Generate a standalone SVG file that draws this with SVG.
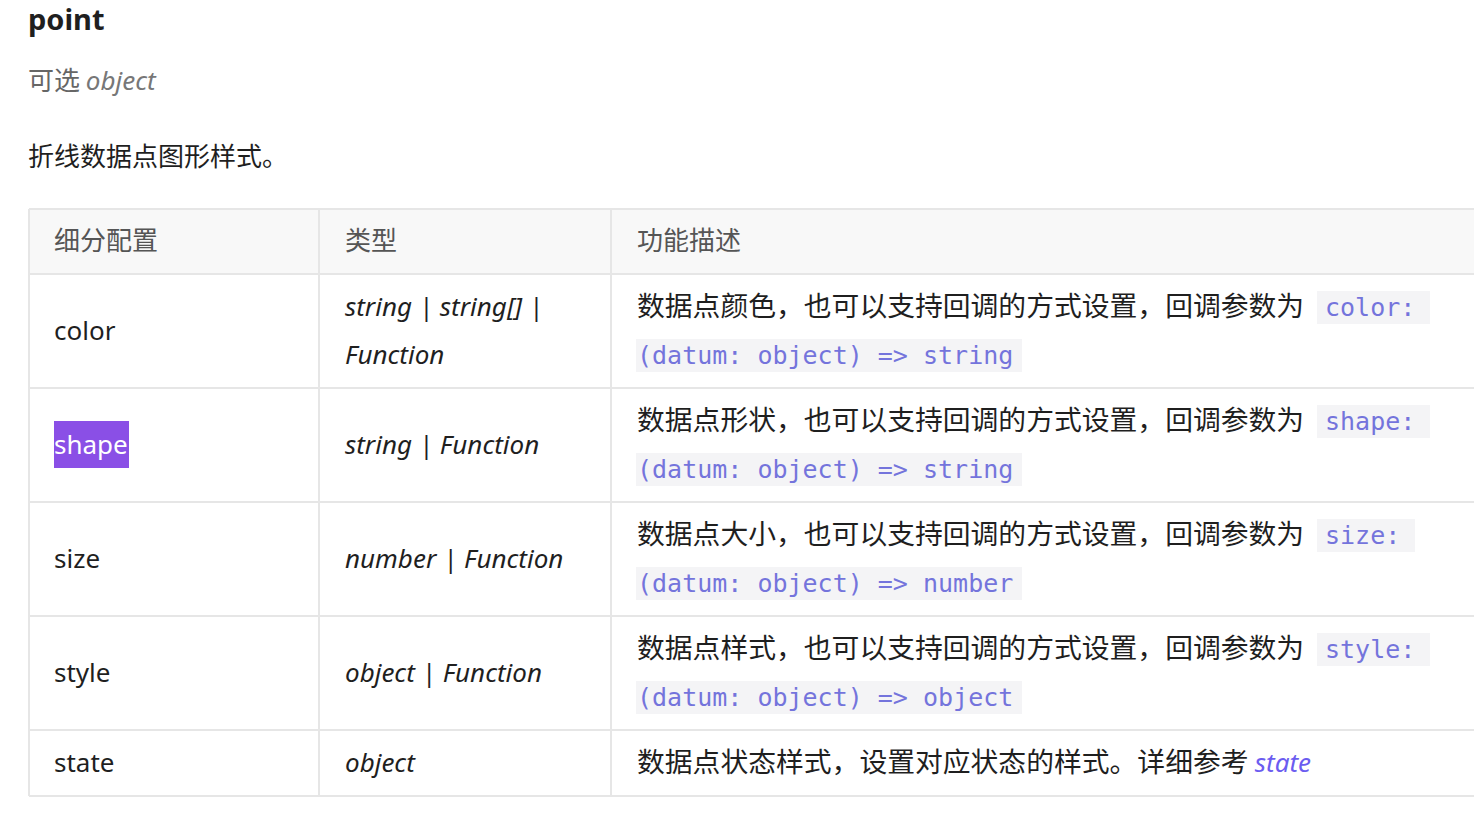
<svg xmlns="http://www.w3.org/2000/svg" width="1474" height="828" viewBox="0 0 1474 828">
<style>
.t{font-family:"Noto Sans","Noto Sans CJK SC",sans-serif;font-size:26px;fill:#1f1f1f}
.z{font-family:"Noto Sans CJK SC",sans-serif;font-size:27.8px;fill:#1f1f1f}
.h{font-family:"Noto Sans CJK SC",sans-serif;font-size:26px;fill:#555}
.i{font-family:"Noto Sans",sans-serif;font-style:italic;font-size:26px;fill:#1f1f1f}
.c{font-family:"DejaVu Sans Mono",monospace;font-size:25px;fill:#7474dc}
.cb{fill:#f4f4f6}
.ln{stroke:#e6e6e6;stroke-width:2;fill:none}
</style>
<rect width="1474" height="828" fill="#fff"/>
<text x="28" y="30" font-family="Noto Sans,sans-serif" font-weight="bold" font-size="29" fill="#1f1f1f">point</text>
<text x="28" y="90" class="z" style="fill:#666;font-size:26px">可选 <tspan font-family="Noto Sans,sans-serif" font-style="italic" fill="#777">object</tspan></text>
<text x="28" y="166" class="z" style="font-size:26px">折线数据点图形样式。</text>
<g id="table">
<rect x="29" y="209" width="1450" height="65" fill="#f8f8f8"/>
<path class="ln" d="M29 209H1474M29 274H1474M29 388H1474M29 502H1474M29 616H1474M29 730H1474M29 796H1474M29 209V796M319 209V796M611 209V796"/>
<text x="54" y="250" class="h">细分配置</text>
<text x="345" y="250" class="h">类型</text>
<text x="637" y="250" class="h">功能描述</text>
</g>
<g id="row-color">
<text x="54" y="340" class="t">color</text>
<text x="345" y="316" class="i">string | string[] |</text>
<text x="345" y="364" class="i">Function</text>
<text x="637" y="316" class="z">数据点颜色，也可以支持回调的方式设置，回调参数为</text>
<rect class="cb" x="1317" y="291" width="113" height="33"/>
<text x="1325" y="316" class="c">color:</text>
<rect class="cb" x="636" y="339" width="386" height="33"/>
<text x="637" y="364" class="c">(datum: object) =&gt; string</text>
</g>
<g id="row-shape">
<rect x="54" y="421" width="75" height="47" fill="#8a4fe6"/>
<text x="54" y="454" class="t" style="fill:#fff">shape</text>
<text x="345" y="454" class="i">string | Function</text>
<text x="637" y="430" class="z">数据点形状，也可以支持回调的方式设置，回调参数为</text>
<rect class="cb" x="1317" y="405" width="113" height="33"/>
<text x="1325" y="430" class="c">shape:</text>
<rect class="cb" x="636" y="453" width="386" height="33"/>
<text x="637" y="478" class="c">(datum: object) =&gt; string</text>
</g>
<g id="row-size">
<text x="54" y="568" class="t">size</text>
<text x="345" y="568" class="i">number | Function</text>
<text x="637" y="544" class="z">数据点大小，也可以支持回调的方式设置，回调参数为</text>
<rect class="cb" x="1317" y="519" width="98" height="33"/>
<text x="1325" y="544" class="c">size:</text>
<rect class="cb" x="636" y="567" width="386" height="33"/>
<text x="637" y="592" class="c">(datum: object) =&gt; number</text>
</g>
<g id="row-style">
<text x="54" y="682" class="t">style</text>
<text x="345" y="682" class="i">object | Function</text>
<text x="637" y="658" class="z">数据点样式，也可以支持回调的方式设置，回调参数为</text>
<rect class="cb" x="1317" y="633" width="113" height="33"/>
<text x="1325" y="658" class="c">style:</text>
<rect class="cb" x="636" y="681" width="386" height="33"/>
<text x="637" y="706" class="c">(datum: object) =&gt; object</text>
</g>
<g id="row-state">
<text x="54" y="772" class="t">state</text>
<text x="345" y="772" class="i">object</text>
<text x="637" y="772" class="z">数据点状态样式，设置对应状态的样式。详细参考 <tspan font-family="Noto Sans,sans-serif" font-style="italic" fill="#6b5cf0" font-size="26">state</tspan></text>
</g>
</svg>
